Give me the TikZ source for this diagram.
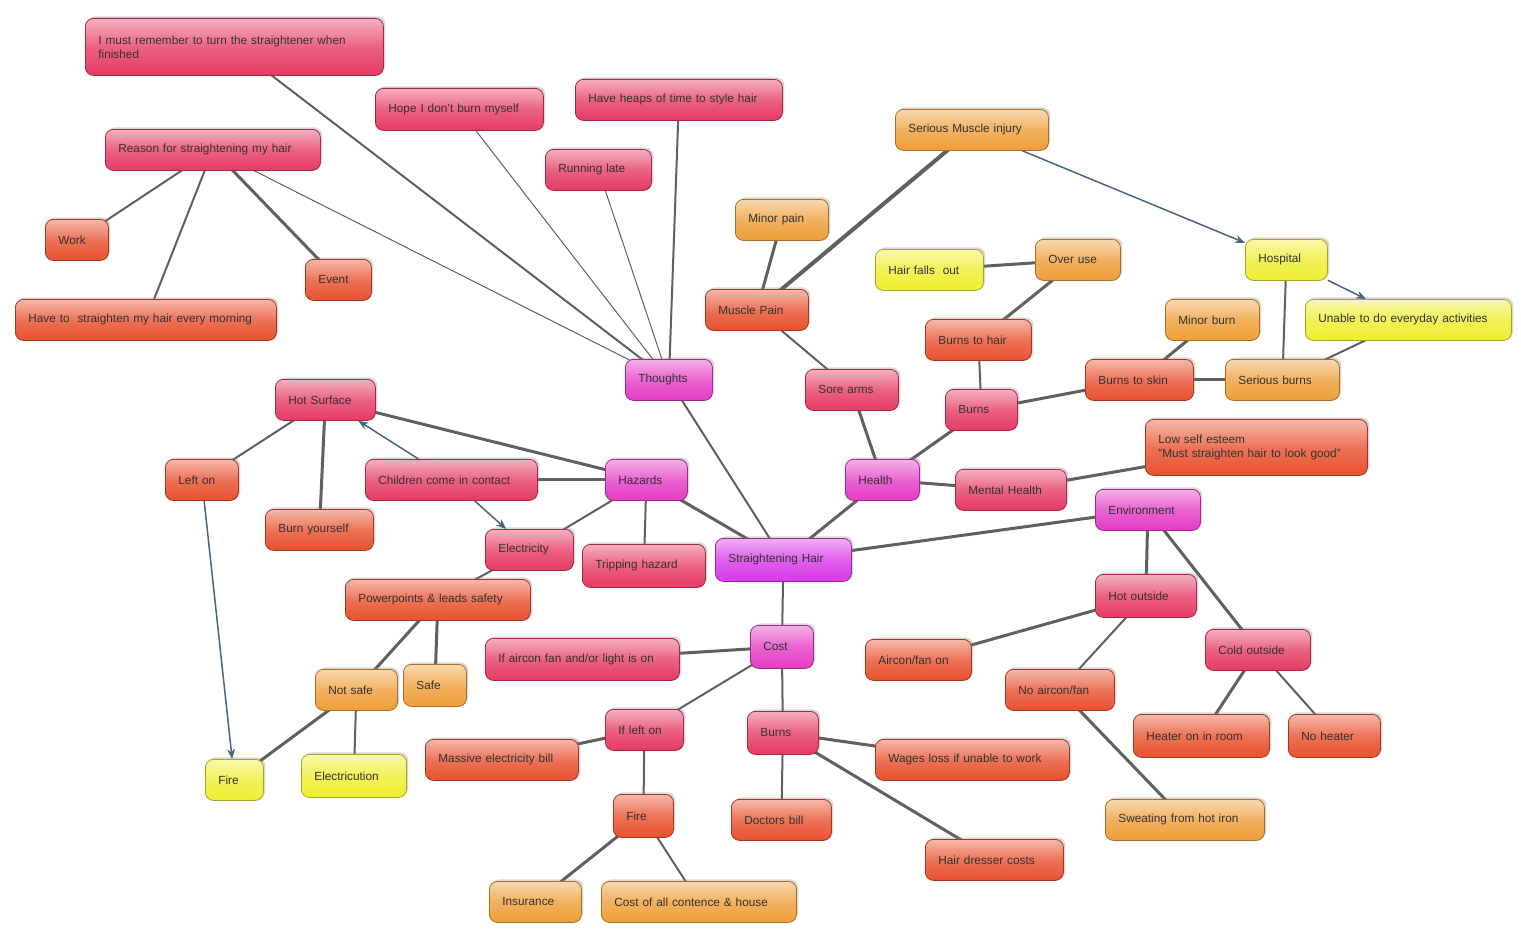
\documentclass[tikz,border=0pt]{standalone}
\usepackage{fontspec}
\setmainfont{Liberation Sans}
\usetikzlibrary{arrows.meta,shadows,backgrounds}
\definecolor{cPur}{HTML}{D838E8}
\definecolor{cMag}{HTML}{E43CC4}
\definecolor{cPink}{HTML}{E63A62}
\definecolor{cRed}{HTML}{E8502E}
\definecolor{cOr}{HTML}{EE9E38}
\definecolor{cYel}{HTML}{EEEE30}
\definecolor{eg}{HTML}{606060}
\definecolor{ar}{HTML}{4A6580}
\tikzset{
 box/.style={rounded corners=8pt, draw=#1!70!black, line width=0.8pt, top color=#1!40!white, bottom color=#1, middle color=#1!80!white,
   text=black!80, font=\fontsize{11.8}{14}\selectfont, align=left, inner xsep=13pt, inner ysep=2pt,
   drop shadow={opacity=0.3, shadow xshift=2pt, shadow yshift=2pt}},
 e1/.style={eg, line width=1pt}, e2/.style={eg, line width=2pt}, e3/.style={eg, line width=3pt}, e4/.style={eg, line width=4pt},
 arw/.style={ar, line width=1.5pt, -{Stealth[length=10pt,width=8pt]}}
}
\newcommand\nd[7]{\pgfmathsetmacro\tw{#4-#2-26}\pgfmathsetmacro\th{#5-#3}\node[box=#6, anchor=north west, text width=\tw pt, minimum height=\th pt] (#1) at (#2,#3) {#7};}
\begin{document}
\begin{tikzpicture}[x=1pt,y=-1pt]
\useasboundingbox (0,0) rectangle (1521,934);
\nd{rem}{85}{18}{383}{75}{cPink}{I must remember to turn the straightener when\\finished}
\nd{hope}{375}{88}{543}{130}{cPink}{Hope I don't burn myself}
\nd{heaps}{575}{79}{782}{120}{cPink}{Have heaps of time to style hair}
\nd{reason}{105}{129}{320}{170}{cPink}{Reason for straightening my hair}
\nd{late}{545}{149}{651}{190}{cPink}{Running late}
\nd{smi}{895}{109}{1048}{150}{cOr}{Serious Muscle injury}
\nd{minp}{735}{199}{828}{240}{cOr}{Minor pain}
\nd{work}{45}{219}{108}{260}{cRed}{Work}
\nd{event}{305}{259}{371}{300}{cRed}{Event}
\nd{haveto}{15}{299}{276}{340}{cRed}{Have to \ straighten my hair every morning}
\nd{hfo}{875}{249}{983}{290}{cYel}{Hair falls \ out}
\nd{over}{1035}{239}{1120}{280}{cOr}{Over use}
\nd{hosp}{1245}{239}{1327}{280}{cYel}{Hospital}
\nd{mp}{705}{289}{808}{330}{cRed}{Muscle Pain}
\nd{unable}{1305}{299}{1511}{340}{cYel}{Unable to do everyday activities}
\nd{minb}{1165}{299}{1259}{340}{cOr}{Minor burn}
\nd{bth}{925}{319}{1031}{360}{cRed}{Burns to hair}
\nd{thoughts}{625}{359}{712}{400}{cMag}{Thoughts}
\nd{sore}{805}{369}{898}{410}{cPink}{Sore arms}
\nd{bts}{1085}{359}{1193}{400}{cRed}{Burns to skin}
\nd{serb}{1225}{359}{1339}{400}{cOr}{Serious burns}
\nd{hot}{275}{379}{375}{420}{cPink}{Hot Surface}
\nd{burnsh}{945}{389}{1017}{430}{cPink}{Burns}
\nd{low}{1145}{419}{1367}{475}{cRed}{Low self esteem\\"Must straighten hair to look good"}
\nd{lefton}{165}{459}{238}{500}{cRed}{Left on}
\nd{child}{365}{459}{537}{500}{cPink}{Children come in contact}
\nd{haz}{605}{459}{687}{500}{cMag}{Hazards}
\nd{health}{845}{459}{919}{500}{cMag}{Health}
\nd{mental}{955}{469}{1066}{510}{cPink}{Mental Health}
\nd{env}{1095}{489}{1200}{530}{cMag}{Environment}
\nd{by}{265}{509}{373}{550}{cRed}{Burn yourself}
\nd{elec}{485}{529}{573}{570}{cPink}{Electricity}
\nd{trip}{582}{544}{705}{587}{cPink}{Tripping hazard}
\nd{sh}{715}{538}{851}{581}{cPur}{Straightening Hair}
\nd{pp}{345}{579}{530}{620}{cRed}{Powerpoints \& leads safety}
\nd{hout}{1095}{574}{1196}{617}{cPink}{Hot outside}
\nd{cost}{750}{625}{813}{668}{cMag}{Cost}
\nd{ifac}{485}{638}{679}{680}{cPink}{If aircon fan and/or light is on}
\nd{acon}{865}{639}{971}{680}{cRed}{Aircon/fan on}
\nd{cold}{1205}{629}{1310}{670}{cPink}{Cold outside}
\nd{notsafe}{315}{669}{397}{710}{cOr}{Not safe}
\nd{safe}{403}{664}{466}{706}{cOr}{Safe}
\nd{noac}{1005}{669}{1114}{710}{cRed}{No aircon/fan}
\nd{iflo}{605}{709}{683}{750}{cPink}{If left on}
\nd{burnsc}{747}{711}{818}{754}{cPink}{Burns}
\nd{mass}{425}{739}{578}{780}{cRed}{Massive electricity bill}
\nd{wages}{875}{739}{1069}{780}{cRed}{Wages loss if unable to work}
\nd{heater}{1133}{714}{1269}{757}{cRed}{Heater on in room}
\nd{noheat}{1288}{714}{1380}{757}{cRed}{No heater}
\nd{fire1}{205}{759}{263}{800}{cYel}{Fire}
\nd{elecu}{301}{754}{406}{797}{cYel}{Electricution}
\nd{fire2}{613}{794}{673}{837}{cRed}{Fire}
\nd{doc}{731}{799}{831}{840}{cRed}{Doctors bill}
\nd{sweat}{1105}{799}{1264}{840}{cOr}{Sweating from hot iron}
\nd{hdc}{925}{839}{1063}{880}{cRed}{Hair dresser costs}
\nd{ins}{489}{881}{581}{922}{cOr}{Insurance}
\nd{coa}{601}{881}{796}{922}{cOr}{Cost of all contence \& house}
\begin{pgfonlayer}{background}
\draw[e2] (rem.center)--(thoughts.center);
\draw[e1] (hope.center)--(thoughts.center);
\draw[e2] (heaps.center)--(thoughts.center);
\draw[e1] (late.center)--(thoughts.center);
\draw[e1] (reason.center)--(thoughts.center);
\draw[e2] (reason.center)--(work.center);
\draw[e3] (reason.center)--(event.center);
\draw[e2] (reason.center)--(haveto.center);
\draw[e2] (thoughts.center)--(sh.center);
\draw[e3] (sh.center)--(haz.center);
\draw[e3] (sh.center)--(health.center);
\draw[e3] (sh.center)--(env.center);
\draw[e2] (sh.center)--(cost.center);
\draw[e3] (haz.center)--(hot.center);
\draw[e3] (haz.center)--(child.center);
\draw[e2] (haz.center)--(elec.center);
\draw[e2] (haz.center)--(trip.center);
\draw[e2] (hot.center)--(lefton.center);
\draw[e3] (hot.center)--(by.center);
\draw[e2] (elec.center)--(pp.center);
\draw[e3] (pp.center)--(notsafe.center);
\draw[e3] (pp.center)--(safe.center);
\draw[e3] (notsafe.center)--(fire1.center);
\draw[e2] (notsafe.center)--(elecu.center);
\draw[e3] (health.center)--(sore.center);
\draw[e2] (sore.center)--(mp.center);
\draw[e3] (mp.center)--(minp.center);
\draw[e4] (mp.center)--(smi.center);
\draw[e3] (health.center)--(burnsh.center);
\draw[e2] (burnsh.center)--(bth.center);
\draw[e3] (bth.center)--(over.center);
\draw[e3] (over.center)--(hfo.center);
\draw[e3] (burnsh.center)--(bts.center);
\draw[e3] (bts.center)--(minb.center);
\draw[e3] (bts.center)--(serb.center);
\draw[e2] (serb.center)--(hosp.center);
\draw[e2] (serb.center)--(unable.center);
\draw[e3] (health.center)--(mental.center);
\draw[e3] (mental.center)--(low.center);
\draw[e3] (env.center)--(hout.center);
\draw[e3] (env.center)--(cold.center);
\draw[e3] (hout.center)--(acon.center);
\draw[e2] (hout.center)--(noac.center);
\draw[e3] (noac.center)--(sweat.center);
\draw[e3] (cold.center)--(heater.center);
\draw[e2] (cold.center)--(noheat.center);
\draw[e3] (cost.center)--(ifac.center);
\draw[e2] (cost.center)--(iflo.center);
\draw[e2] (cost.center)--(burnsc.center);
\draw[e3] (iflo.center)--(mass.center);
\draw[e2] (iflo.center)--(fire2.center);
\draw[e3] (fire2.center)--(ins.center);
\draw[e2] (fire2.center)--(coa.center);
\draw[e2] (burnsc.center)--(doc.center);
\draw[e3] (burnsc.center)--(wages.center);
\draw[e3] (burnsc.center)--(hdc.center);
\end{pgfonlayer}
\draw[arw] (child)--(hot);
\draw[arw] (child)--(elec);
\draw[arw] (lefton)--(fire1);
\draw[arw] (smi)--(hosp);
\draw[arw] (hosp)--(unable);
\end{tikzpicture}
\end{document}
